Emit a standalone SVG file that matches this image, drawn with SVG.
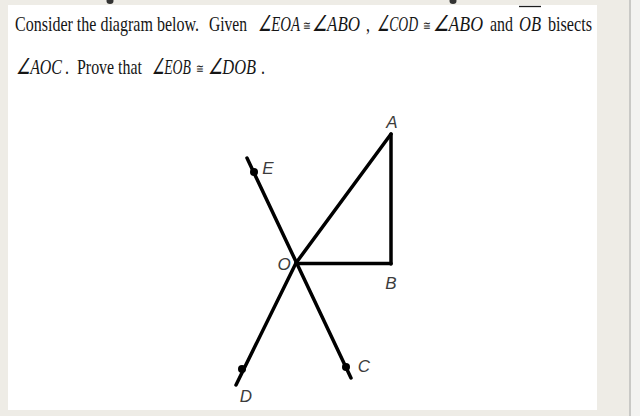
<svg xmlns="http://www.w3.org/2000/svg" width="640" height="416" viewBox="0 0 640 416">
<style>
.t{font-family:"Liberation Serif","Times New Roman",serif;font-size:22px;fill:#151515}
.i{font-style:italic}
.c{font-family:"DejaVu Serif","Liberation Serif",serif;font-size:13px;fill:#151515}
.lbl{font-family:"Liberation Sans",Arial,sans-serif;font-style:italic;font-size:17px;fill:#3c3c3c;text-anchor:middle}
.seg{stroke:#000;stroke-width:3.5;stroke-linecap:round;fill:none}
.dot{fill:#000}
</style>
<rect x="0" y="0" width="640" height="416" fill="#eeece6"/>
<rect x="629" y="0" width="2" height="416" fill="#c9c9c6"/>
<rect x="631" y="0" width="9" height="416" fill="#f3f3f1"/>
<rect x="8" y="5" width="589" height="405" fill="#ffffff"/>
<ellipse cx="110" cy="1" rx="3.5" ry="3" fill="#333"/>
<ellipse cx="453" cy="1" rx="3.5" ry="3" fill="#333"/>
<g id="problem-text">
<g transform="scale(0.72,1)">
<text class="t" x="20.83" y="31" textLength="255.6" lengthAdjust="spacingAndGlyphs">Consider the diagram below.</text>
<text class="t" x="290.28" y="31" textLength="52.78" lengthAdjust="spacingAndGlyphs">Given</text>
<text class="t i" x="358.33" y="31" textLength="58.33" lengthAdjust="spacingAndGlyphs">∠EOA</text>
<text class="c" x="420.5" y="30">≅</text>
<text class="t i" x="433.33" y="31" textLength="66.67" lengthAdjust="spacingAndGlyphs">∠ABO</text>
<text class="t" x="508.33" y="31">,</text>
<text class="t i" x="523.61" y="31" textLength="57" lengthAdjust="spacingAndGlyphs">∠COD</text>
<text class="c" x="587.5" y="30">≅</text>
<text class="t i" x="601" y="31" textLength="69.83" lengthAdjust="spacingAndGlyphs">∠ABO</text>
<text class="t" x="680.56" y="31" textLength="31.94" lengthAdjust="spacingAndGlyphs">and</text>
<text class="t i" x="720.83" y="31" textLength="30.56" lengthAdjust="spacingAndGlyphs">OB</text>
<text class="t" x="761.11" y="31" textLength="61.11" lengthAdjust="spacingAndGlyphs">bisects</text>
<text class="t i" x="22.22" y="74" textLength="63.89" lengthAdjust="spacingAndGlyphs">∠AOC</text>
<text class="t" x="90.28" y="74">.</text>
<text class="t" x="106.94" y="74" textLength="90.28" lengthAdjust="spacingAndGlyphs">Prove that</text>
<text class="t i" x="211.11" y="74" textLength="54" lengthAdjust="spacingAndGlyphs">∠EOB</text>
<text class="c" x="272.5" y="73">≅</text>
<text class="t i" x="288.5" y="74" textLength="67.06" lengthAdjust="spacingAndGlyphs">∠DOB</text>
<text class="t" x="362.5" y="74">.</text>
</g>
<line x1="519" y1="6.5" x2="541" y2="6.5" stroke="#1e1e1e" stroke-width="1.3"/>
</g>
<g id="connectors">
<line class="seg" x1="247" y1="158" x2="351" y2="378"/>
<line class="seg" x1="296" y1="263" x2="236" y2="385"/>
<line class="seg" x1="296" y1="263" x2="391" y2="134"/>
<line class="seg" x1="391" y1="134" x2="391" y2="264"/>
<line class="seg" x1="296" y1="263.5" x2="391" y2="263.5" stroke-width="4"/>
</g>
<g id="node-A"><text class="lbl" x="392" y="128">A</text></g>
<g id="node-B"><text class="lbl" x="391" y="289">B</text></g>
<g id="node-O"><text class="lbl" x="284" y="270">O</text></g>
<g id="node-E"><circle class="dot" cx="254" cy="172" r="4"/><text class="lbl" x="268" y="174">E</text></g>
<g id="node-C"><circle class="dot" cx="346" cy="367" r="4"/><text class="lbl" x="364" y="372">C</text></g>
<g id="node-D"><circle class="dot" cx="242" cy="369" r="4"/><text class="lbl" x="246" y="402">D</text></g>
</svg>
